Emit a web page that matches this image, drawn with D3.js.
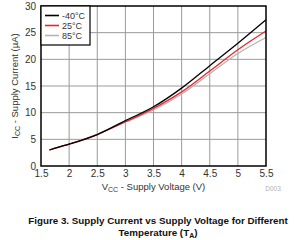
<!DOCTYPE html>
<html>
<head>
<meta charset="utf-8">
<script src="https://cdn.jsdelivr.net/npm/d3@7"></script>
<style>
  body { margin: 0; background: #fff; }
  svg { display: block; font-family: "Liberation Sans", Arial, sans-serif; }
  .grid line { stroke: #9a9a9a; stroke-width: 1; }
  .tick text { fill: #333; font-size: 10px; }
</style>
</head>
<body>
<svg id="chart"></svg>
<script>
// supply voltage (V) and supply current (uA) per temperature
const voltage = [1.65, 1.8, 2.0, 2.5, 3.0, 3.5, 4.0, 4.5, 5.0, 5.5];
const iccMinus40 = [3.0, 3.5, 4.1, 5.9, 8.5, 11.1, 14.6, 18.8, 23.0, 27.4];
const icc25 = [3.0, 3.5, 4.1, 5.9, 8.3, 10.8, 13.9, 17.8, 21.8, 25.3];
const icc85 = [3.0, 3.5, 4.1, 6.0, 8.2, 10.5, 13.5, 17.3, 21.1, 24.1];
const seriesNames = ['-40°C', '25°C', '85°C'];
const seriesColors = ['#000000', '#e8262a', '#b4b4b4'];
const xTicks = [1.5, 2, 2.5, 3, 3.5, 4, 4.5, 5, 5.5];
const yTicks = [0, 5, 10, 15, 20, 25, 30];

const W = 294, H = 240;
const margin = {top: 6, right: 28, bottom: 74, left: 41};
const width = W - margin.left - margin.right;
const height = H - margin.top - margin.bottom;

const svg = d3.select('#chart').attr('width', W).attr('height', H);
const g = svg.append('g').attr('transform', `translate(${margin.left},${margin.top})`);

const x = d3.scaleLinear().domain([1.5, 5.5]).range([0, width]);
const y = d3.scaleLinear().domain([0, 30]).range([height, 0]);

// grid
g.append('g').attr('class', 'grid')
  .selectAll('line').data(xTicks.slice(1, -1)).enter().append('line')
  .attr('x1', d => x(d)).attr('x2', d => x(d)).attr('y1', 0).attr('y2', height);
g.append('g').attr('class', 'grid')
  .selectAll('line').data(yTicks.slice(1, -1)).enter().append('line')
  .attr('x1', 0).attr('x2', width).attr('y1', d => y(d)).attr('y2', d => y(d));

// axes (labels only, frame drawn separately)
const xAxis = d3.axisBottom(x).tickValues(xTicks).tickSize(0).tickPadding(4).tickFormat(d3.format('~g'));
const yAxis = d3.axisLeft(y).tickValues(yTicks).tickSize(0).tickPadding(5);
g.append('g').attr('transform', `translate(0,${height})`).call(xAxis)
  .call(s => s.select('.domain').remove());
g.append('g').call(yAxis)
  .call(s => s.select('.domain').remove());
g.selectAll('.tick text').attr('font-family', '"Liberation Sans", Arial, sans-serif').attr('font-size', 10);

// curves, hottest first so black sits on top
const series = [iccMinus40, icc25, icc85];
const line = d3.line().x((d, i) => x(voltage[i])).y(d => y(d)).curve(d3.curveMonotoneX);
[2, 1, 0].forEach(k => {
  g.append('path')
    .datum(series[k])
    .attr('fill', 'none')
    .attr('stroke', seriesColors[k])
    .attr('stroke-width', 1.3)
    .attr('d', line);
});

// frame
g.append('rect').attr('width', width).attr('height', height)
  .attr('fill', 'none').attr('stroke', '#000').attr('stroke-width', 1.5);

// legend
const lg = g.append('g');
lg.append('rect').attr('x', 0).attr('y', 0).attr('width', 49).attr('height', 39)
  .attr('fill', '#fff').attr('stroke', '#000').attr('stroke-width', 1.2);
seriesNames.forEach((name, i) => {
  const ly = 9.5 + i * 10;
  lg.append('line').attr('x1', 4).attr('x2', 18).attr('y1', ly).attr('y2', ly)
    .attr('stroke', seriesColors[i]).attr('stroke-width', 1.6);
  lg.append('text').attr('x', 21).attr('y', ly + 3.2).attr('font-size', 9).attr('fill', '#333').text(name);
});

// axis titles
svg.append('text')
  .attr('x', margin.left + width / 2).attr('y', H - margin.bottom + 24)
  .attr('text-anchor', 'middle').attr('font-size', 9.5).attr('fill', '#333')
  .call(t => {
    t.append('tspan').text('V');
    t.append('tspan').attr('font-size', 7).attr('dy', 2).text('CC');
    t.append('tspan').attr('dy', -2).text(' - Supply Voltage (V)');
  });
svg.append('text')
  .attr('transform', `translate(18,${margin.top + height / 2}) rotate(-90)`)
  .attr('text-anchor', 'middle').attr('font-size', 9.5).attr('fill', '#333')
  .call(t => {
    t.append('tspan').text('I');
    t.append('tspan').attr('font-size', 7).attr('dy', 2).text('CC');
    t.append('tspan').attr('dy', -2).text(' - Supply Current (µA)');
  });

svg.append('text').attr('x', 273).attr('y', 191).attr('text-anchor', 'middle')
  .attr('font-size', 6.5).attr('fill', '#b0b0b0').text('D003');

// caption
svg.append('text').attr('x', 158).attr('y', 224).attr('text-anchor', 'middle')
  .attr('font-size', 9.8).attr('font-weight', 'bold').attr('fill', '#111')
  .text('Figure 3. Supply Current vs Supply Voltage for Different');
svg.append('text').attr('x', 158).attr('y', 236).attr('text-anchor', 'middle')
  .attr('font-size', 9.8).attr('font-weight', 'bold').attr('fill', '#111')
  .call(t => {
    t.append('tspan').text('Temperature (T');
    t.append('tspan').attr('font-size', 7).attr('dy', 2).text('A');
    t.append('tspan').attr('dy', -2).text(')');
  });
</script>
</body>
</html>
